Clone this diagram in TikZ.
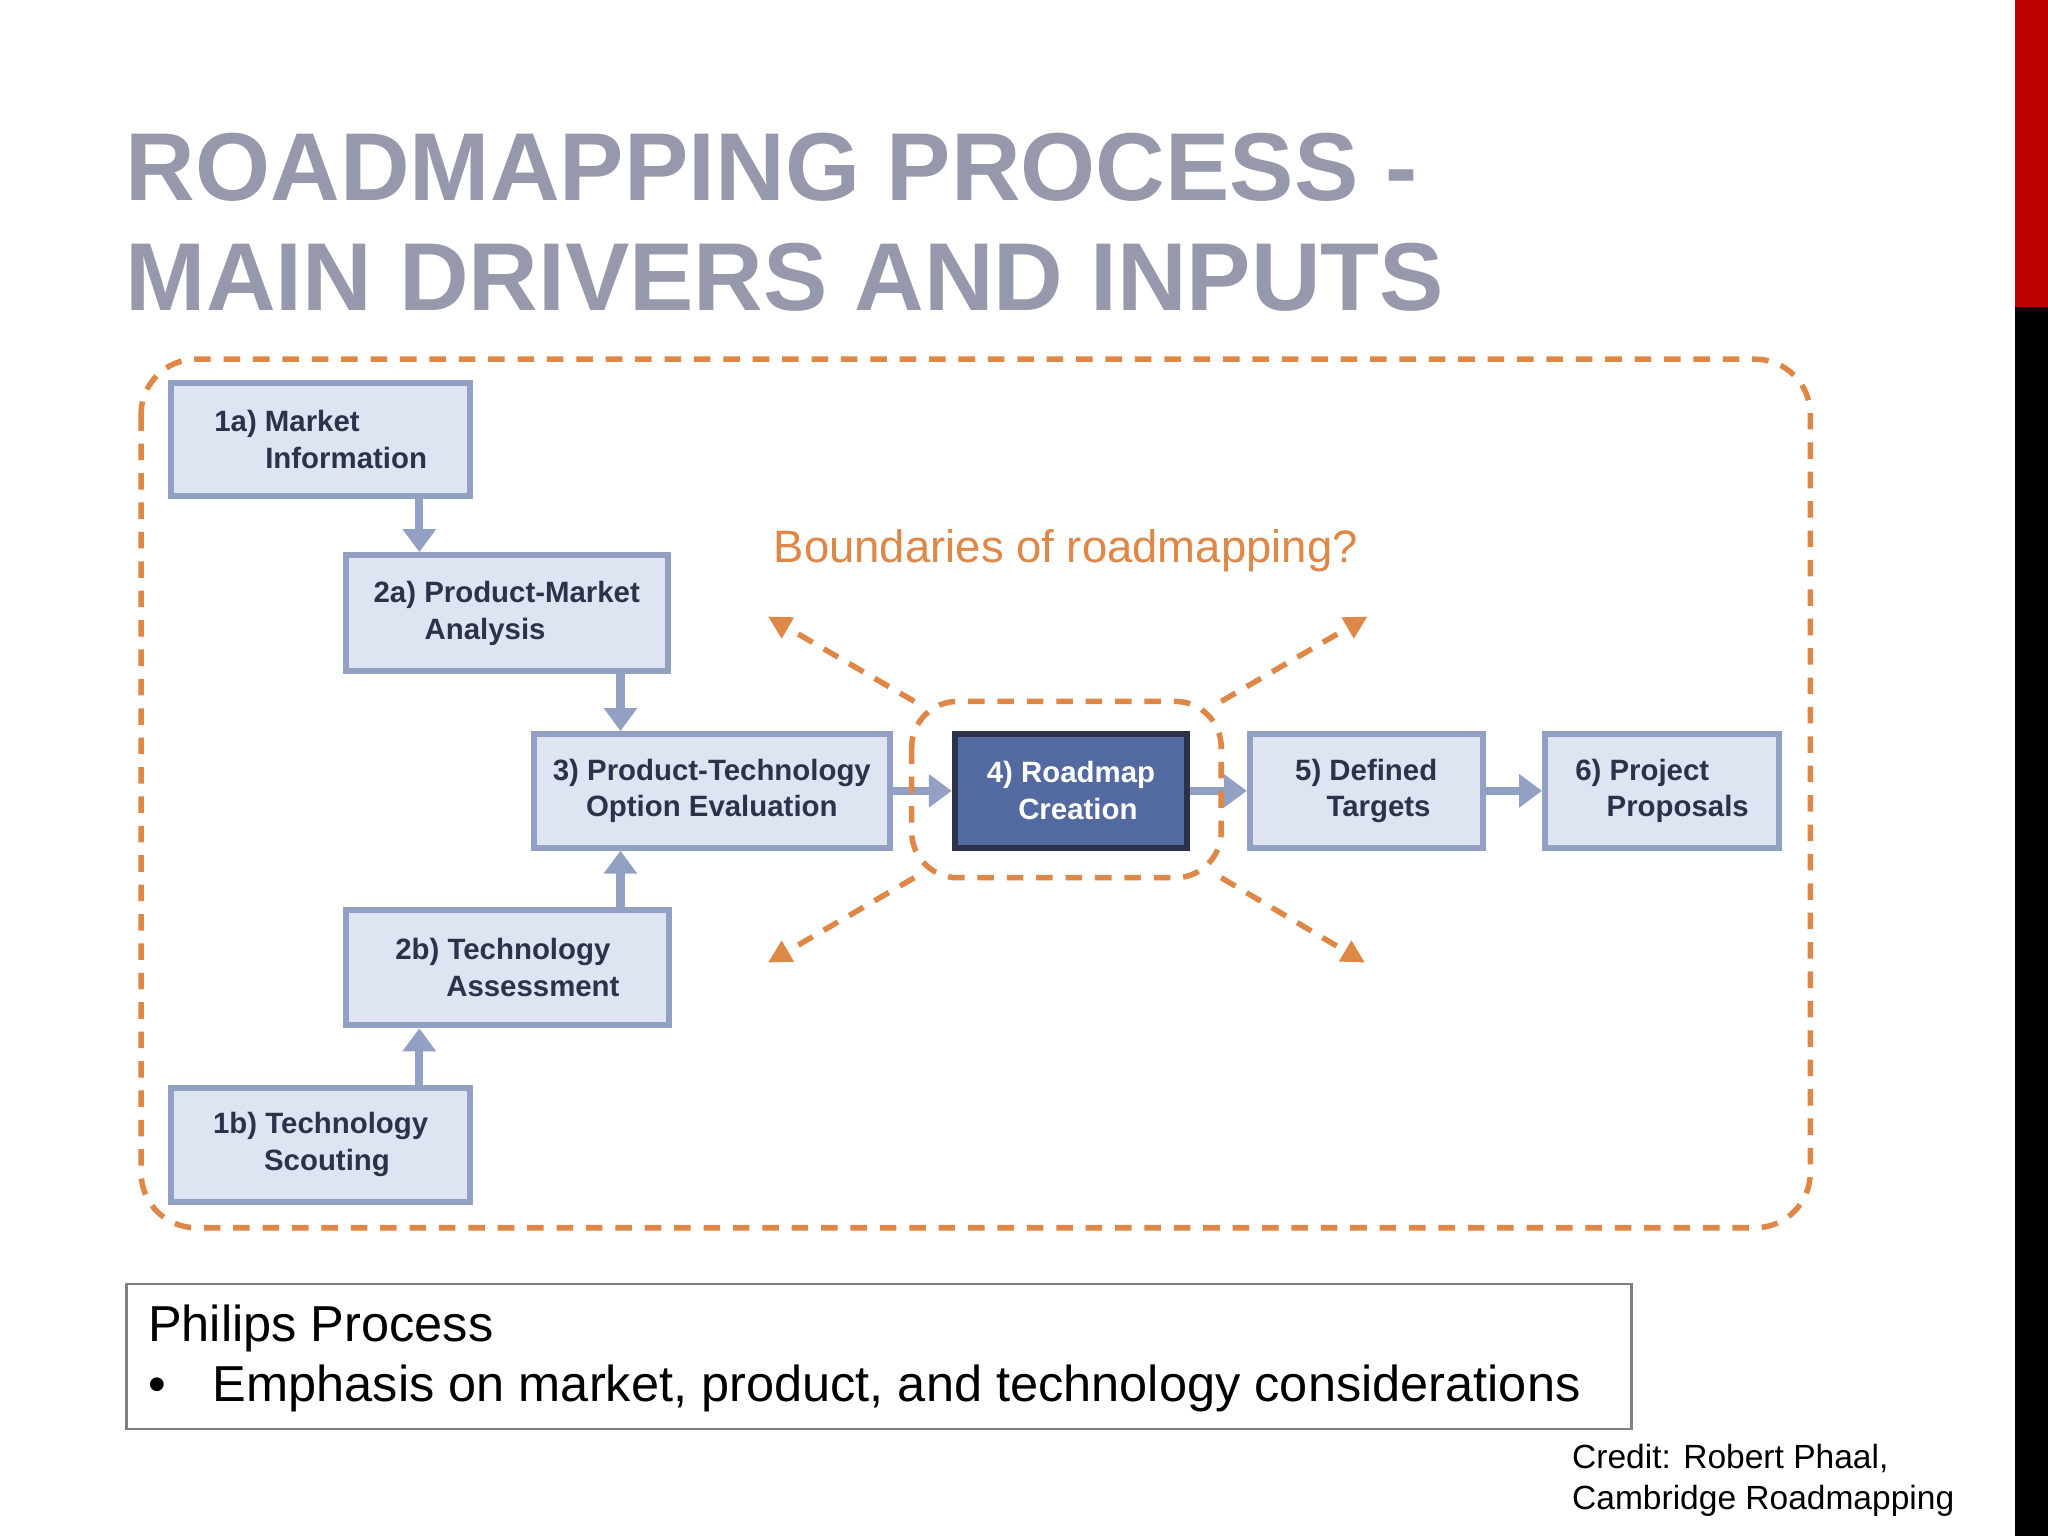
\documentclass[tikz,border=0pt]{standalone}
\usepackage{fontspec}
\setmainfont{Liberation Sans}
\usetikzlibrary{arrows.meta,calc}
\definecolor{ttl}{RGB}{150,152,172}
\definecolor{org}{RGB}{222,135,70}
\definecolor{bfill}{RGB}{222,228,242}
\definecolor{bdraw}{RGB}{145,160,195}
\definecolor{dfill}{RGB}{82,106,160}
\definecolor{dtext}{RGB}{45,50,75}
\begin{document}
\begin{tikzpicture}[x=0.01cm,y=-0.01cm,
 box/.style={draw=bdraw,fill=bfill,line width=1.3pt,inner sep=0pt,font=\fontsize{6.4}{8}\selectfont\bfseries,text=dtext,align=left},
 arr/.style={draw=bdraw,line width=1.8pt,-{Triangle[length=5pt,width=7pt]}},
 od/.style={draw=org,line width=1.2pt,dash pattern=on 3.6pt off 2.8pt},
 oarr/.style={od,-{Triangle[length=5pt,width=5pt]}}]
\useasboundingbox (0,0) rectangle (1568,1176);
\fill[white] (0,0) rectangle (1568,1176);
\fill[red!75!black] (1543,0) rectangle (1568,235);
\fill[black] (1543,235) rectangle (1568,1176);
\node[anchor=west,text=ttl,font=\fontsize{21}{24}\selectfont\bfseries] (t1) at (84,128) {ROADMAPPING PROCESS -};
\node[anchor=west,text=ttl,font=\fontsize{21}{24}\selectfont\bfseries] (t2) at (84,212) {MAIN DRIVERS AND INPUTS};
\draw[od,rounded corners=12pt] (108,275) rectangle (1386,940);
\node[box,minimum width=2.29cm,minimum height=0.87cm] (1a) at (245.5,336.5) {1a) Market\\\hspace*{3.9mm}Information};
\node[box,minimum width=2.46cm,minimum height=0.89cm] (2a) at (388,469.5) {2a) Product-Market\\\hspace*{3.9mm}Analysis};
\node[box,minimum width=2.72cm,minimum height=0.87cm,align=center] (3) at (545,605.5) {3) Product-Technology\\Option Evaluation};
\node[box,minimum width=1.78cm,minimum height=0.87cm,fill=dfill,draw=dtext,text=white] (4) at (820,605.5) {4) Roadmap\\\hspace*{2.4mm}Creation};
\node[box,minimum width=1.78cm,minimum height=0.87cm] (5) at (1046,605.5) {5) Defined\\\hspace*{2.4mm}Targets};
\node[box,minimum width=1.79cm,minimum height=0.87cm] (6) at (1272.5,605.5) {6) Project\\\hspace*{2.4mm}Proposals};
\node[box,minimum width=2.47cm,minimum height=0.88cm] (2b) at (388.5,741) {2b) Technology\\\hspace*{3.9mm}Assessment};
\node[box,minimum width=2.29cm,minimum height=0.87cm] (1b) at (245.5,876.5) {1b) Technology\\\hspace*{3.9mm}Scouting};
\draw[arr] ([xshift=7.55mm]1a.south) -- ([xshift=7.55mm]1a.south |- 2a.north);
\draw[arr] ([xshift=8.7mm]2a.south) -- ([xshift=8.7mm]2a.south |- 3.north);
\draw[arr] ([xshift=8.65mm]2b.north) -- ([xshift=8.65mm]2b.north |- 3.south);
\draw[arr] ([xshift=7.55mm]1b.north) -- ([xshift=7.55mm]1b.north |- 2b.south);
\draw[arr] (3) -- (4);
\draw[arr] (4) -- (5);
\draw[arr] (5) -- (6);
\draw[od,rounded corners=10pt] (698,537) rectangle (935,672);
\coordinate (c1) at (700,537); \coordinate (c2) at (935,537);
\coordinate (c3) at (700,672); \coordinate (c4) at (935,672);
\coordinate (e1) at (588,472); \coordinate (e2) at (1047,472);
\coordinate (e3) at (588,737); \coordinate (e4) at (1045,737);
\draw[oarr] (c1) -- (e1); \draw[oarr] (c2) -- (e2);
\draw[oarr] (c3) -- (e3); \draw[oarr] (c4) -- (e4);
\node[text=org,font=\fontsize{9.9}{12}\selectfont] (bd) at (816,422) {Boundaries of roadmapping?};
\draw[gray,line width=0.6pt] (97,983) rectangle (1249,1094);
\node[anchor=west,font=\fontsize{11}{12}\selectfont] (pp) at (101,1017) {Philips Process};
\node[anchor=west,font=\fontsize{11}{12}\selectfont] (em) at (101,1063) {•\hspace{3.6mm}Emphasis on market, product, and technology considerations};
\node[anchor=north west,align=left,inner sep=0pt,font=\fontsize{7.3}{9}\selectfont] (cr) at (1203,1105) {Credit: Robert Phaal,\\Cambridge Roadmapping};
\end{tikzpicture}
\end{document}
